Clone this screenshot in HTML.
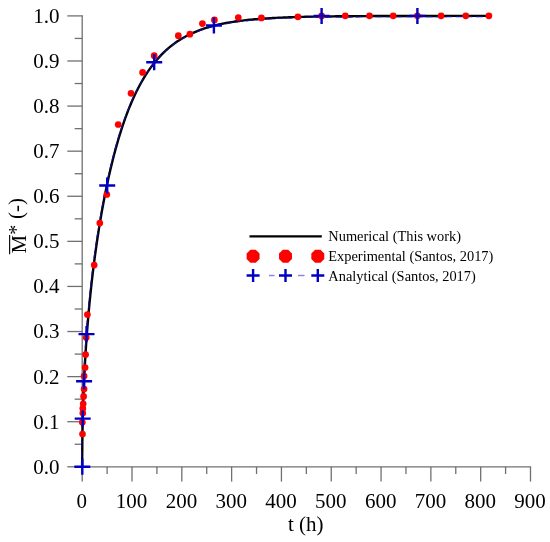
<!DOCTYPE html>
<html><head><meta charset="utf-8"><style>
html,body{margin:0;padding:0;background:#fff;}
svg{display:block;}
text{font-family:"Liberation Serif","Times New Roman",serif;fill:#000;}
</style></head><body>
<svg width="550" height="542" viewBox="0 0 550 542">
<rect width="550" height="542" fill="#fff"/>

<g stroke="#707070" stroke-width="1.3" fill="none"><line x1="82.2" y1="15.25" x2="82.2" y2="466.8" />
<line x1="82.2" y1="466.8" x2="531.14" y2="466.8" />
<line x1="67.3" y1="466.80" x2="82.2" y2="466.80" />
<line x1="67.3" y1="421.71" x2="82.2" y2="421.71" />
<line x1="67.3" y1="376.62" x2="82.2" y2="376.62" />
<line x1="67.3" y1="331.53" x2="82.2" y2="331.53" />
<line x1="67.3" y1="286.44" x2="82.2" y2="286.44" />
<line x1="67.3" y1="241.35" x2="82.2" y2="241.35" />
<line x1="67.3" y1="196.26" x2="82.2" y2="196.26" />
<line x1="67.3" y1="151.17" x2="82.2" y2="151.17" />
<line x1="67.3" y1="106.08" x2="82.2" y2="106.08" />
<line x1="67.3" y1="60.99" x2="82.2" y2="60.99" />
<line x1="67.3" y1="15.90" x2="82.2" y2="15.90" />
<line x1="74.7" y1="444.25" x2="82.2" y2="444.25" />
<line x1="74.7" y1="399.17" x2="82.2" y2="399.17" />
<line x1="74.7" y1="354.08" x2="82.2" y2="354.08" />
<line x1="74.7" y1="308.99" x2="82.2" y2="308.99" />
<line x1="74.7" y1="263.89" x2="82.2" y2="263.89" />
<line x1="74.7" y1="218.81" x2="82.2" y2="218.81" />
<line x1="74.7" y1="173.72" x2="82.2" y2="173.72" />
<line x1="74.7" y1="128.63" x2="82.2" y2="128.63" />
<line x1="74.7" y1="83.53" x2="82.2" y2="83.53" />
<line x1="74.7" y1="38.44" x2="82.2" y2="38.44" />
<line x1="82.20" y1="466.8" x2="82.20" y2="481.6" />
<line x1="132.01" y1="466.8" x2="132.01" y2="481.6" />
<line x1="181.82" y1="466.8" x2="181.82" y2="481.6" />
<line x1="231.63" y1="466.8" x2="231.63" y2="481.6" />
<line x1="281.44" y1="466.8" x2="281.44" y2="481.6" />
<line x1="331.25" y1="466.8" x2="331.25" y2="481.6" />
<line x1="381.06" y1="466.8" x2="381.06" y2="481.6" />
<line x1="430.87" y1="466.8" x2="430.87" y2="481.6" />
<line x1="480.68" y1="466.8" x2="480.68" y2="481.6" />
<line x1="530.49" y1="466.8" x2="530.49" y2="481.6" />
<line x1="107.11" y1="466.8" x2="107.11" y2="474" />
<line x1="156.92" y1="466.8" x2="156.92" y2="474" />
<line x1="206.72" y1="466.8" x2="206.72" y2="474" />
<line x1="256.54" y1="466.8" x2="256.54" y2="474" />
<line x1="306.34" y1="466.8" x2="306.34" y2="474" />
<line x1="356.15" y1="466.8" x2="356.15" y2="474" />
<line x1="405.96" y1="466.8" x2="405.96" y2="474" />
<line x1="455.77" y1="466.8" x2="455.77" y2="474" />
<line x1="505.58" y1="466.8" x2="505.58" y2="474" /></g>
<g font-size="21"><text x="59.4" y="473.70" text-anchor="end">0.0</text>
<text x="59.4" y="428.61" text-anchor="end">0.1</text>
<text x="59.4" y="383.52" text-anchor="end">0.2</text>
<text x="59.4" y="338.43" text-anchor="end">0.3</text>
<text x="59.4" y="293.34" text-anchor="end">0.4</text>
<text x="59.4" y="248.25" text-anchor="end">0.5</text>
<text x="59.4" y="203.16" text-anchor="end">0.6</text>
<text x="59.4" y="158.07" text-anchor="end">0.7</text>
<text x="59.4" y="112.98" text-anchor="end">0.8</text>
<text x="59.4" y="67.89" text-anchor="end">0.9</text>
<text x="59.4" y="22.80" text-anchor="end">1.0</text>
<text x="81.80" y="508.3" text-anchor="middle">0</text>
<text x="131.61" y="508.3" text-anchor="middle">100</text>
<text x="181.42" y="508.3" text-anchor="middle">200</text>
<text x="231.23" y="508.3" text-anchor="middle">300</text>
<text x="281.04" y="508.3" text-anchor="middle">400</text>
<text x="330.85" y="508.3" text-anchor="middle">500</text>
<text x="380.66" y="508.3" text-anchor="middle">600</text>
<text x="430.47" y="508.3" text-anchor="middle">700</text>
<text x="480.28" y="508.3" text-anchor="middle">800</text>
<text x="530.09" y="508.3" text-anchor="middle">900</text></g>
<text x="305.8" y="531" font-size="21" text-anchor="middle">t (h)</text>
<g transform="translate(25.5,254.5) rotate(-90)"><text x="1.3" y="0" font-size="20.5">M</text><text x="19.8" y="-2.2" font-size="20">*</text><text x="35.5" y="-2.1" font-size="21">(-)</text><line x1="0.2" y1="-15.9" x2="19.4" y2="-15.9" stroke="#111" stroke-width="1.2"/></g>
<path d="M82.20,466.80 L82.20,463.49 L82.21,460.45 L82.22,457.32 L82.24,454.18 L82.26,451.04 L82.29,447.92 L82.32,444.80 L82.35,441.69 L82.39,438.59 L82.44,435.49 L82.49,432.41 L82.54,429.33 L82.60,426.26 L82.66,423.20 L82.73,420.15 L82.81,417.11 L82.88,414.07 L82.97,411.04 L83.06,408.02 L83.15,405.01 L83.24,402.01 L83.35,399.01 L83.45,396.03 L83.56,393.05 L83.68,390.08 L83.80,387.12 L83.93,384.16 L84.06,381.22 L84.19,378.28 L84.24,377.22 L84.85,365.37 L85.45,354.93 L86.06,345.51 L86.66,336.88 L87.27,328.88 L87.87,321.41 L88.47,314.38 L89.08,307.73 L89.68,301.41 L90.29,295.38 L90.89,289.60 L91.50,284.06 L92.10,278.73 L92.71,273.59 L93.31,268.62 L93.92,263.81 L94.52,259.15 L95.13,254.63 L95.73,250.23 L96.34,245.96 L96.94,241.80 L97.54,237.74 L98.15,233.79 L98.75,229.93 L99.36,226.16 L99.96,222.48 L100.57,218.88 L101.17,215.36 L101.78,211.91 L102.38,208.54 L102.99,205.23 L103.59,202.00 L104.20,198.83 L104.80,195.72 L105.41,192.67 L106.01,189.68 L106.61,186.75 L107.22,183.88 L107.82,181.06 L108.43,178.29 L109.03,175.58 L109.64,172.91 L110.24,170.29 L110.85,167.72 L111.45,165.20 L112.06,162.72 L112.66,160.29 L113.27,157.90 L113.87,155.55 L114.47,153.24 L115.08,150.98 L115.68,148.75 L116.29,146.57 L116.89,144.42 L117.50,142.31 L118.10,140.23 L118.71,138.19 L119.31,136.19 L119.92,134.22 L120.52,132.29 L121.13,130.38 L121.73,128.51 L122.34,126.68 L122.94,124.87 L123.54,123.09 L124.15,121.35 L124.75,119.63 L125.36,117.95 L125.96,116.29 L126.57,114.66 L127.17,113.05 L127.78,111.48 L128.38,109.93 L128.99,108.41 L129.59,106.91 L130.20,105.44 L130.80,103.99 L131.41,102.56 L132.01,101.16 L132.51,100.03 L134.31,96.05 L136.11,92.27 L137.91,88.67 L139.71,85.24 L141.51,81.98 L143.31,78.88 L145.11,75.93 L146.91,73.11 L148.71,70.43 L150.50,67.88 L152.30,65.45 L154.10,63.14 L155.90,60.94 L157.70,58.84 L159.50,56.84 L161.30,54.93 L163.10,53.12 L164.90,51.39 L166.70,49.74 L168.50,48.17 L170.30,46.68 L172.10,45.25 L173.90,43.89 L175.70,42.59 L177.50,41.36 L179.30,40.18 L181.10,39.06 L182.90,37.99 L184.70,36.97 L186.50,36.00 L188.30,35.07 L190.10,34.19 L191.90,33.35 L193.70,32.54 L195.50,31.78 L197.30,31.05 L199.10,30.35 L200.90,29.69 L202.70,29.05 L204.49,28.45 L206.29,27.87 L208.09,27.32 L209.89,26.80 L211.69,26.30 L213.49,25.82 L215.29,25.37 L217.09,24.93 L218.89,24.52 L220.69,24.12 L222.49,23.75 L224.29,23.39 L226.09,23.05 L227.89,22.72 L229.69,22.41 L231.49,22.11 L233.29,21.83 L235.09,21.56 L236.89,21.30 L238.69,21.05 L240.49,20.82 L242.29,20.59 L244.09,20.38 L245.89,20.17 L247.69,19.98 L249.49,19.79 L251.29,19.62 L253.09,19.45 L254.89,19.28 L256.69,19.13 L258.48,18.98 L260.28,18.84 L262.08,18.71 L263.88,18.58 L265.68,18.46 L267.48,18.34 L269.28,18.23 L271.08,18.13 L272.88,18.02 L274.68,17.93 L276.48,17.84 L278.28,17.75 L280.08,17.66 L281.88,17.58 L283.68,17.51 L285.48,17.43 L287.28,17.36 L289.08,17.30 L290.88,17.23 L292.68,17.17 L294.48,17.12 L296.28,17.06 L298.08,17.01 L299.88,16.96 L301.68,16.91 L303.48,16.86 L305.28,16.82 L307.08,16.78 L308.88,16.74 L310.68,16.70 L312.47,16.67 L314.27,16.63 L316.07,16.60 L317.87,16.57 L319.67,16.54 L321.47,16.51 L323.27,16.48 L325.07,16.45 L326.87,16.43 L328.67,16.40 L330.47,16.38 L332.27,16.36 L334.07,16.34 L335.87,16.32 L337.67,16.30 L339.47,16.28 L341.27,16.26 L343.07,16.25 L344.87,16.23 L346.67,16.22 L348.47,16.20 L350.27,16.19 L352.07,16.18 L353.87,16.16 L355.67,16.15 L357.47,16.14 L359.27,16.13 L361.07,16.12 L362.87,16.11 L364.67,16.10 L366.46,16.09 L368.26,16.08 L370.06,16.07 L371.86,16.07 L373.66,16.06 L375.46,16.05 L377.26,16.04 L379.06,16.04 L380.86,16.03 L382.66,16.03 L384.46,16.02 L386.26,16.01 L388.06,16.01 L389.86,16.00 L391.66,16.00 L393.46,16.00 L395.26,15.99 L397.06,15.99 L398.86,15.98 L400.66,15.98 L402.46,15.98 L404.26,15.97 L406.06,15.97 L407.86,15.97 L409.66,15.96 L411.46,15.96 L413.26,15.96 L415.06,15.95 L416.86,15.95 L418.66,15.95 L420.45,15.95 L422.25,15.95 L424.05,15.94 L425.85,15.94 L427.65,15.94 L429.45,15.94 L431.25,15.94 L433.05,15.93 L434.85,15.93 L436.65,15.93 L438.45,15.93 L440.25,15.93 L442.05,15.93 L443.85,15.93 L445.65,15.93 L447.45,15.92 L449.25,15.92 L451.05,15.92 L452.85,15.92 L454.65,15.92 L456.45,15.92 L458.25,15.92 L460.05,15.92 L461.85,15.92 L463.65,15.92 L465.45,15.92 L467.25,15.91 L469.05,15.91 L470.85,15.91 L472.65,15.91 L474.44,15.91 L476.24,15.91 L478.04,15.91 L479.84,15.91 L481.64,15.91 L483.44,15.91 L485.24,15.91 L487.04,15.91 L488.84,15.91 L490.64,15.91" fill="none" stroke="#000" stroke-width="2.4" stroke-linejoin="round"/>
<path d="M82.20,466.80 L82.20,463.49 L82.21,460.45 L82.22,457.32 L82.24,454.18 L82.26,451.04 L82.29,447.92 L82.32,444.80 L82.35,441.69 L82.39,438.59 L82.44,435.49 L82.49,432.41 L82.54,429.33 L82.60,426.26 L82.66,423.20 L82.73,420.15 L82.81,417.11 L82.88,414.07 L82.97,411.04 L83.06,408.02 L83.15,405.01 L83.24,402.01 L83.35,399.01 L83.45,396.03 L83.56,393.05 L83.68,390.08 L83.80,387.12 L83.93,384.16 L84.06,381.22 L84.19,378.28 L84.24,377.22 L84.85,365.37 L85.45,354.93 L86.06,345.51 L86.66,336.88 L87.27,328.88 L87.87,321.41 L88.47,314.38 L89.08,307.73 L89.68,301.41 L90.29,295.38 L90.89,289.60 L91.50,284.06 L92.10,278.73 L92.71,273.59 L93.31,268.62 L93.92,263.81 L94.52,259.15 L95.13,254.63 L95.73,250.23 L96.34,245.96 L96.94,241.80 L97.54,237.74 L98.15,233.79 L98.75,229.93 L99.36,226.16 L99.96,222.48 L100.57,218.88 L101.17,215.36 L101.78,211.91 L102.38,208.54 L102.99,205.23 L103.59,202.00 L104.20,198.83 L104.80,195.72 L105.41,192.67 L106.01,189.68 L106.61,186.75 L107.22,183.88 L107.82,181.06 L108.43,178.29 L109.03,175.58 L109.64,172.91 L110.24,170.29 L110.85,167.72 L111.45,165.20 L112.06,162.72 L112.66,160.29 L113.27,157.90 L113.87,155.55 L114.47,153.24 L115.08,150.98 L115.68,148.75 L116.29,146.57 L116.89,144.42 L117.50,142.31 L118.10,140.23 L118.71,138.19 L119.31,136.19 L119.92,134.22 L120.52,132.29 L121.13,130.38 L121.73,128.51 L122.34,126.68 L122.94,124.87 L123.54,123.09 L124.15,121.35 L124.75,119.63 L125.36,117.95 L125.96,116.29 L126.57,114.66 L127.17,113.05 L127.78,111.48 L128.38,109.93 L128.99,108.41 L129.59,106.91 L130.20,105.44 L130.80,103.99 L131.41,102.56 L132.01,101.16 L132.51,100.03 L134.31,96.05 L136.11,92.27 L137.91,88.67 L139.71,85.24 L141.51,81.98 L143.31,78.88 L145.11,75.93 L146.91,73.11 L148.71,70.43 L150.50,67.88 L152.30,65.45 L154.10,63.14 L155.90,60.94 L157.70,58.84 L159.50,56.84 L161.30,54.93 L163.10,53.12 L164.90,51.39 L166.70,49.74 L168.50,48.17 L170.30,46.68 L172.10,45.25 L173.90,43.89 L175.70,42.59 L177.50,41.36 L179.30,40.18 L181.10,39.06 L182.90,37.99 L184.70,36.97 L186.50,36.00 L188.30,35.07 L190.10,34.19 L191.90,33.35 L193.70,32.54 L195.50,31.78 L197.30,31.05 L199.10,30.35 L200.90,29.69 L202.70,29.05 L204.49,28.45 L206.29,27.87 L208.09,27.32 L209.89,26.80 L211.69,26.30 L213.49,25.82 L215.29,25.37 L217.09,24.93 L218.89,24.52 L220.69,24.12 L222.49,23.75 L224.29,23.39 L226.09,23.05 L227.89,22.72 L229.69,22.41 L231.49,22.11 L233.29,21.83 L235.09,21.56 L236.89,21.30 L238.69,21.05 L240.49,20.82 L242.29,20.59 L244.09,20.38 L245.89,20.17 L247.69,19.98 L249.49,19.79 L251.29,19.62 L253.09,19.45 L254.89,19.28 L256.69,19.13 L258.48,18.98 L260.28,18.84 L262.08,18.71 L263.88,18.58 L265.68,18.46 L267.48,18.34 L269.28,18.23 L271.08,18.13 L272.88,18.02 L274.68,17.93 L276.48,17.84 L278.28,17.75 L280.08,17.66 L281.88,17.58 L283.68,17.51 L285.48,17.43 L287.28,17.36 L289.08,17.30 L290.88,17.23 L292.68,17.17 L294.48,17.12 L296.28,17.06 L298.08,17.01 L299.88,16.96 L301.68,16.91 L303.48,16.86 L305.28,16.82 L307.08,16.78 L308.88,16.74 L310.68,16.70 L312.47,16.67 L314.27,16.63 L316.07,16.60 L317.87,16.57 L319.67,16.54 L321.47,16.51 L323.27,16.48 L325.07,16.45 L326.87,16.43 L328.67,16.40 L330.47,16.38 L332.27,16.36 L334.07,16.34 L335.87,16.32 L337.67,16.30 L339.47,16.28 L341.27,16.26 L343.07,16.25 L344.87,16.23 L346.67,16.22 L348.47,16.20 L350.27,16.19 L352.07,16.18 L353.87,16.16 L355.67,16.15 L357.47,16.14 L359.27,16.13 L361.07,16.12 L362.87,16.11 L364.67,16.10 L366.46,16.09 L368.26,16.08 L370.06,16.07 L371.86,16.07 L373.66,16.06 L375.46,16.05 L377.26,16.04 L379.06,16.04 L380.86,16.03 L382.66,16.03 L384.46,16.02 L386.26,16.01 L388.06,16.01 L389.86,16.00 L391.66,16.00 L393.46,16.00 L395.26,15.99 L397.06,15.99 L398.86,15.98 L400.66,15.98 L402.46,15.98 L404.26,15.97 L406.06,15.97 L407.86,15.97 L409.66,15.96 L411.46,15.96 L413.26,15.96 L415.06,15.95 L416.86,15.95 L418.66,15.95 L420.45,15.95 L422.25,15.95 L424.05,15.94 L425.85,15.94 L427.65,15.94 L429.45,15.94 L431.25,15.94 L433.05,15.93 L434.85,15.93 L436.65,15.93 L438.45,15.93 L440.25,15.93 L442.05,15.93 L443.85,15.93 L445.65,15.93 L447.45,15.92 L449.25,15.92 L451.05,15.92 L452.85,15.92 L454.65,15.92 L456.45,15.92 L458.25,15.92 L460.05,15.92 L461.85,15.92 L463.65,15.92 L465.45,15.92 L467.25,15.91 L469.05,15.91 L470.85,15.91 L472.65,15.91 L474.44,15.91 L476.24,15.91 L478.04,15.91 L479.84,15.91 L481.64,15.91 L483.44,15.91 L485.24,15.91 L487.04,15.91 L488.84,15.91 L490.64,15.91" transform="translate(-0.7,0.7)" fill="none" stroke="#10108a" stroke-width="1.1" stroke-dasharray="7 3" stroke-linejoin="round"/>
<g fill="#ff0000"><circle cx="82.5" cy="434.0" r="3.35"/><circle cx="86.2" cy="337.4" r="3.35"/><circle cx="82.3" cy="422.3" r="3.35"/><circle cx="82.8" cy="413.0" r="3.35"/><circle cx="82.8" cy="408.4" r="3.35"/><circle cx="83.2" cy="403.8" r="3.35"/><circle cx="83.6" cy="396.4" r="3.35"/><circle cx="84.1" cy="389.0" r="3.35"/><circle cx="84.1" cy="376.1" r="3.35"/><circle cx="85.1" cy="367.5" r="3.35"/><circle cx="85.6" cy="354.5" r="3.35"/><circle cx="87.4" cy="314.6" r="3.35"/><circle cx="94.2" cy="265.1" r="3.35"/><circle cx="99.8" cy="223.1" r="3.35"/><circle cx="106.8" cy="194.5" r="3.35"/><circle cx="118.2" cy="124.5" r="3.35"/><circle cx="131.0" cy="93.3" r="3.35"/><circle cx="142.6" cy="72.4" r="3.35"/><circle cx="154.2" cy="55.7" r="3.35"/><circle cx="178.3" cy="35.7" r="3.35"/><circle cx="189.9" cy="34.2" r="3.35"/><circle cx="202.4" cy="23.6" r="3.35"/><circle cx="214.4" cy="19.9" r="3.35"/><circle cx="238.3" cy="17.5" r="3.35"/><circle cx="261.4" cy="17.9" r="3.35"/><circle cx="297.9" cy="16.8" r="3.35"/><circle cx="321.6" cy="15.9" r="3.35"/><circle cx="345.3" cy="15.8" r="3.35"/><circle cx="369.5" cy="15.8" r="3.35"/><circle cx="393.2" cy="15.8" r="3.35"/><circle cx="417.4" cy="15.8" r="3.35"/><circle cx="441.1" cy="15.8" r="3.35"/><circle cx="465.8" cy="15.8" r="3.35"/><circle cx="488.9" cy="15.8" r="3.35"/></g>
<path d="M74.3,466.8H90.3M82.3,458.8V474.8M74.7,418.6H90.7M82.7,410.6V426.6M76.1,381.3H92.1M84.1,373.3V389.3M78.5,334.1H94.5M86.5,326.1V342.1M99.2,185.5H115.2M107.2,177.5V193.5M146.2,62.2H162.2M154.2,54.2V70.2M205.9,25.5H221.9M213.9,17.5V33.5M313.6,15.9H329.6M321.6,7.9V23.9M409.4,15.9H425.4M417.4,7.9V23.9" stroke="#0000c4" stroke-width="2.4" fill="none"/>
<line x1="249.5" y1="236.3" x2="321.8" y2="236.3" stroke="#000" stroke-width="2.2"/>
<polygon points="259.57,258.88 255.78,262.67 250.42,262.67 246.63,258.88 246.63,253.52 250.42,249.73 255.78,249.73 259.57,253.52" fill="#ff0000"/>
<polygon points="291.97,258.88 288.18,262.67 282.82,262.67 279.03,258.88 279.03,253.52 282.82,249.73 288.18,249.73 291.97,253.52" fill="#ff0000"/>
<polygon points="324.27,258.88 320.48,262.67 315.12,262.67 311.33,258.88 311.33,253.52 315.12,249.73 320.48,249.73 324.27,253.52" fill="#ff0000"/>
<path d="M269,275.5H274.5M298,275.5H304.5" stroke="#8888dd" stroke-width="1.5"/>
<path d="M246.6,275.5H259.6M253.1,269V282M279.0,275.5H292.0M285.5,269V282M311.3,275.5H324.3M317.8,269V282" stroke="#0000c4" stroke-width="2.4" fill="none"/>
<g font-size="14.4"><text x="328.3" y="241">Numerical (This work)</text><text x="328.3" y="260.7">Experimental (Santos, 2017)</text><text x="328.3" y="281">Analytical (Santos, 2017)</text></g>
</svg></body></html>
